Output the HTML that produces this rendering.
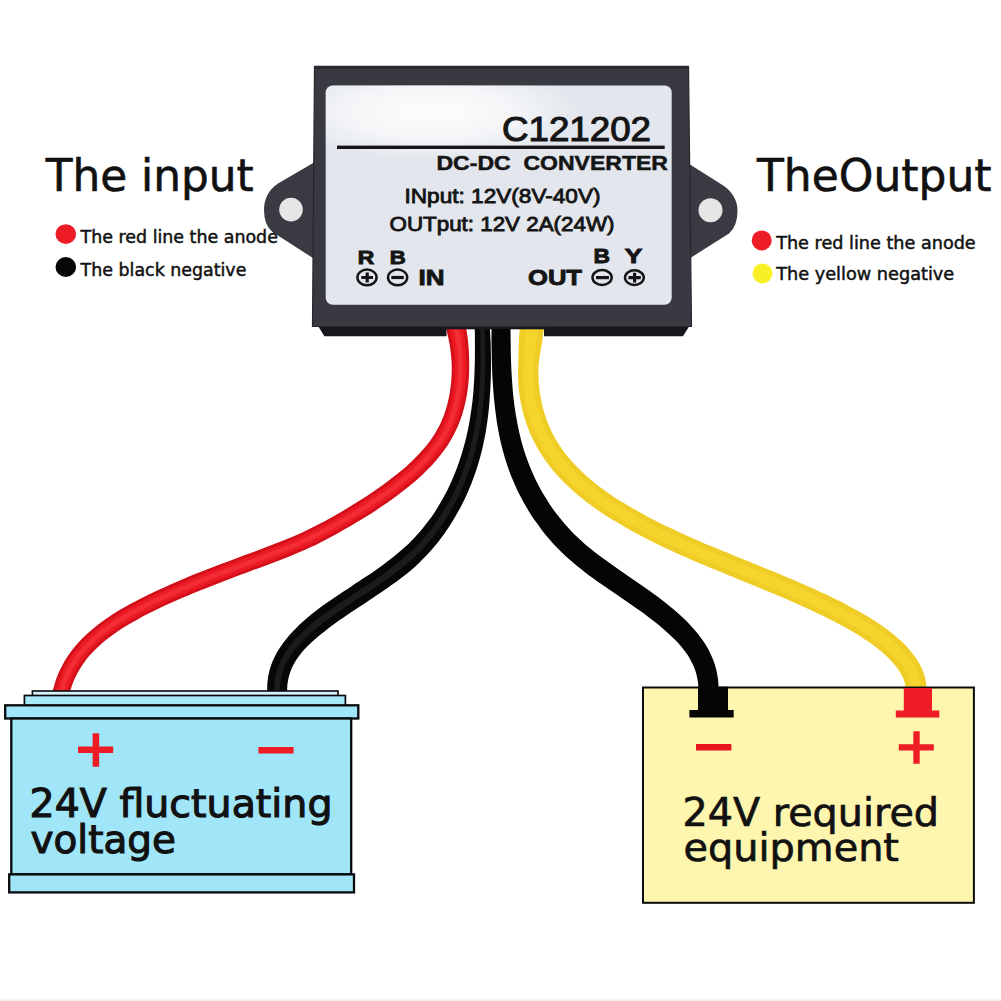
<!DOCTYPE html>
<html lang="en">
<head>
<meta charset="utf-8">
<title>DC-DC Converter wiring diagram</title>
<style>
  html, body { margin: 0; padding: 0; background: #ffffff; }
  body { width: 1001px; height: 1001px; overflow: hidden; }
  svg { display: block; }
  .hum { font-family: "DejaVu Sans", "Liberation Sans", sans-serif; fill: #111; }
  .lab { font-family: "Liberation Sans", sans-serif; fill: #151515; }
</style>
</head>
<body>
<svg width="1001" height="1001" viewBox="0 0 1001 1001">
  <defs>
    <radialGradient id="glare" gradientUnits="userSpaceOnUse" cx="430" cy="112" r="150" gradientTransform="translate(430 112) scale(1 0.32) translate(-430 -112)">
      <stop offset="0" stop-color="#ffffff" stop-opacity="0.95"/>
      <stop offset="0.55" stop-color="#ffffff" stop-opacity="0.6"/>
      <stop offset="1" stop-color="#ffffff" stop-opacity="0"/>
    </radialGradient>
  </defs>
  <rect x="0" y="0" width="1001" height="1001" fill="#ffffff"/>

  <!-- ============ wires ============ -->
  <g stroke="none">
    <path class="wRedA" fill="#d3101a" d="M445.8 327.3 C446.3 329.2 447.7 334.8 448.5 338.7 C449.3 342.5 450.0 346.5 450.5 350.4 C451.0 354.4 451.4 358.4 451.6 362.4 C451.8 366.4 451.8 370.4 451.6 374.4 C451.5 378.4 451.2 382.4 450.7 386.3 C450.2 390.3 449.6 394.2 448.8 398.0 C448.0 401.8 447.0 405.6 445.9 409.3 C444.8 413.0 443.5 416.6 442.0 420.1 C440.4 423.6 438.8 427.0 436.9 430.3 C435.0 433.6 432.9 436.8 430.7 439.9 C428.4 443.1 426.0 446.1 423.4 449.1 C420.9 452.1 418.1 455.0 415.3 457.8 C412.5 460.7 409.5 463.5 406.5 466.2 C403.5 468.9 400.3 471.5 397.1 474.1 C393.9 476.7 390.7 479.2 387.4 481.6 C384.1 484.1 380.8 486.5 377.5 488.8 C374.1 491.2 370.7 493.4 367.3 495.7 C363.9 497.9 360.4 500.1 356.9 502.3 C353.5 504.5 349.9 506.6 346.4 508.7 C342.9 510.8 339.3 512.9 335.8 514.9 C332.2 516.9 328.6 518.9 325.1 520.9 C321.5 522.8 317.9 524.7 314.2 526.6 C310.6 528.4 307.0 530.2 303.3 531.9 C299.6 533.6 295.8 535.2 292.0 536.9 C288.3 538.5 284.4 540.0 280.6 541.6 C276.8 543.1 272.9 544.6 269.0 546.1 C265.1 547.6 261.2 549.0 257.3 550.5 C253.4 552.0 249.5 553.4 245.6 554.8 C241.7 556.3 237.8 557.7 233.9 559.2 C230.0 560.7 226.1 562.1 222.2 563.6 C218.4 565.1 214.5 566.5 210.6 568.0 C206.7 569.5 202.8 571.1 199.0 572.6 C195.1 574.2 191.2 575.7 187.3 577.3 C183.5 578.9 179.6 580.6 175.7 582.2 C171.9 583.9 168.0 585.6 164.1 587.4 C160.3 589.1 156.4 590.9 152.5 592.7 C148.6 594.6 144.8 596.5 140.9 598.4 C137.0 600.4 133.2 602.4 129.3 604.5 C125.5 606.6 121.7 608.8 117.9 611.1 C114.2 613.3 110.5 615.7 106.9 618.2 C103.3 620.7 99.7 623.2 96.3 626.0 C92.9 628.7 89.6 631.5 86.4 634.5 C83.2 637.4 80.2 640.5 77.3 643.8 C74.4 647.1 71.7 650.5 69.2 654.1 C66.6 657.7 64.3 661.4 62.2 665.4 C60.1 669.3 58.2 673.4 56.6 677.7 C55.1 682.0 53.3 688.9 52.7 691.1 L69.2 694.9 C69.8 693.0 71.2 687.3 72.6 683.7 C73.9 680.1 75.5 676.7 77.2 673.4 C79.0 670.1 80.9 666.9 83.1 663.9 C85.2 660.8 87.5 657.9 90.0 655.1 C92.5 652.2 95.2 649.5 98.0 646.9 C100.8 644.3 103.8 641.7 106.9 639.3 C110.0 636.8 113.2 634.5 116.5 632.2 C119.8 629.9 123.3 627.7 126.8 625.6 C130.3 623.5 133.9 621.4 137.5 619.4 C141.1 617.4 144.9 615.5 148.6 613.6 C152.3 611.7 156.1 609.9 159.8 608.1 C163.6 606.3 167.4 604.5 171.1 602.8 C174.9 601.1 178.7 599.5 182.5 597.8 C186.2 596.2 190.0 594.6 193.8 593.0 C197.6 591.5 201.4 589.9 205.3 588.4 C209.1 586.9 212.9 585.4 216.7 583.9 C220.6 582.4 224.4 580.9 228.3 579.5 C232.1 578.0 236.0 576.6 239.9 575.1 C243.7 573.7 247.6 572.2 251.5 570.8 C255.4 569.3 259.3 567.9 263.3 566.4 C267.2 565.0 271.1 563.5 275.1 562.0 C279.0 560.5 283.0 558.9 286.9 557.4 C290.8 555.8 294.8 554.2 298.7 552.5 C302.6 550.8 306.5 549.1 310.4 547.3 C314.3 545.5 318.1 543.7 321.9 541.7 C325.7 539.8 329.5 537.8 333.2 535.8 C336.9 533.8 340.6 531.7 344.2 529.6 C347.9 527.6 351.5 525.5 355.1 523.3 C358.7 521.1 362.3 519.0 365.9 516.7 C369.5 514.5 373.1 512.2 376.6 509.9 C380.2 507.6 383.7 505.2 387.2 502.8 C390.7 500.3 394.2 497.8 397.6 495.2 C401.0 492.7 404.5 490.0 407.8 487.3 C411.2 484.6 414.5 481.8 417.8 478.9 C421.0 476.0 424.3 473.0 427.3 469.8 C430.4 466.7 433.5 463.5 436.3 460.2 C439.2 456.9 441.9 453.4 444.5 449.8 C447.0 446.3 449.5 442.5 451.6 438.7 C453.8 434.9 455.8 430.9 457.6 426.8 C459.3 422.8 460.9 418.6 462.2 414.4 C463.5 410.2 464.7 405.9 465.6 401.6 C466.5 397.2 467.3 392.8 467.8 388.5 C468.4 384.1 468.8 379.6 469.0 375.2 C469.2 370.8 469.3 366.3 469.2 361.9 C469.2 357.5 469.0 353.0 468.7 348.6 C468.4 344.3 468.0 339.9 467.4 335.6 C466.8 331.2 465.6 324.9 465.3 322.7 Z"/>
    <path class="wRedB" fill="#ec1a24" d="M449.1 326.5 C449.6 328.4 451.0 334.2 451.7 338.2 C452.5 342.1 453.1 346.1 453.6 350.1 C454.1 354.2 454.4 358.2 454.6 362.3 C454.7 366.4 454.7 370.5 454.6 374.5 C454.4 378.6 454.1 382.7 453.6 386.7 C453.1 390.7 452.5 394.7 451.7 398.6 C450.8 402.5 449.8 406.4 448.7 410.2 C447.5 413.9 446.2 417.6 444.6 421.2 C443.1 424.8 441.3 428.3 439.4 431.7 C437.5 435.1 435.3 438.4 433.0 441.6 C430.7 444.8 428.2 447.9 425.6 451.0 C423.0 454.0 420.2 457.0 417.4 459.9 C414.5 462.8 411.5 465.6 408.4 468.3 C405.3 471.1 402.2 473.7 398.9 476.3 C395.7 478.9 392.5 481.5 389.2 483.9 C385.9 486.4 382.5 488.8 379.1 491.2 C375.7 493.5 372.3 495.8 368.9 498.1 C365.4 500.4 362.0 502.6 358.5 504.8 C355.0 506.9 351.4 509.1 347.9 511.2 C344.3 513.3 340.8 515.4 337.2 517.4 C333.6 519.4 330.0 521.5 326.4 523.4 C322.8 525.4 319.2 527.3 315.5 529.1 C311.9 531.0 308.2 532.8 304.5 534.5 C300.8 536.2 297.0 537.9 293.2 539.5 C289.4 541.1 285.5 542.7 281.7 544.3 C277.8 545.8 273.9 547.3 270.0 548.8 C266.2 550.3 262.2 551.7 258.3 553.2 C254.4 554.7 250.5 556.1 246.6 557.6 C242.7 559.0 238.8 560.5 234.9 561.9 C231.0 563.4 227.2 564.8 223.3 566.3 C219.4 567.8 215.5 569.2 211.6 570.7 C207.8 572.2 203.9 573.8 200.0 575.3 C196.2 576.8 192.3 578.4 188.4 580.0 C184.6 581.6 180.7 583.2 176.9 584.9 C173.0 586.5 169.2 588.2 165.3 590.0 C161.5 591.7 157.6 593.5 153.8 595.3 C149.9 597.2 146.0 599.1 142.2 601.0 C138.4 603.0 134.5 605.0 130.7 607.0 C126.9 609.1 123.1 611.3 119.4 613.5 C115.7 615.8 112.1 618.1 108.5 620.6 C105.0 623.0 101.5 625.6 98.1 628.2 C94.8 630.9 91.5 633.7 88.4 636.6 C85.3 639.5 82.3 642.5 79.5 645.7 C76.6 648.9 74.0 652.3 71.5 655.8 C69.1 659.3 66.8 662.9 64.8 666.7 C62.7 670.6 60.9 674.6 59.4 678.7 C57.8 682.9 56.1 689.6 55.5 691.8 L66.4 694.2 C67.0 692.3 68.5 686.4 69.9 682.7 C71.2 679.0 72.9 675.4 74.7 672.0 C76.5 668.6 78.5 665.4 80.7 662.2 C82.9 659.1 85.3 656.1 87.9 653.2 C90.4 650.3 93.2 647.5 96.0 644.8 C98.9 642.1 101.9 639.5 105.1 637.0 C108.2 634.5 111.5 632.1 114.9 629.8 C118.2 627.5 121.7 625.3 125.3 623.1 C128.8 621.0 132.4 618.9 136.1 616.9 C139.8 614.9 143.5 612.9 147.3 611.0 C151.0 609.1 154.8 607.3 158.6 605.5 C162.4 603.7 166.1 601.9 169.9 600.2 C173.7 598.5 177.5 596.8 181.3 595.2 C185.1 593.5 188.9 591.9 192.7 590.4 C196.5 588.8 200.4 587.2 204.2 585.7 C208.0 584.2 211.8 582.7 215.7 581.2 C219.5 579.7 223.4 578.2 227.2 576.8 C231.1 575.3 235.0 573.9 238.9 572.4 C242.7 571.0 246.6 569.5 250.5 568.1 C254.4 566.6 258.3 565.2 262.3 563.7 C266.2 562.2 270.1 560.8 274.0 559.3 C278.0 557.8 281.9 556.2 285.8 554.7 C289.8 553.1 293.7 551.5 297.6 549.8 C301.5 548.2 305.4 546.5 309.2 544.7 C313.0 542.9 316.9 541.1 320.6 539.2 C324.4 537.3 328.1 535.3 331.8 533.3 C335.5 531.3 339.1 529.2 342.8 527.1 C346.4 525.1 350.0 523.0 353.6 520.8 C357.2 518.7 360.8 516.5 364.4 514.3 C367.9 512.1 371.5 509.8 375.0 507.5 C378.6 505.2 382.1 502.8 385.5 500.4 C389.0 498.0 392.5 495.5 395.9 492.9 C399.3 490.4 402.7 487.8 406.0 485.1 C409.3 482.4 412.6 479.6 415.9 476.7 C419.1 473.8 422.3 470.9 425.3 467.8 C428.3 464.7 431.3 461.6 434.1 458.3 C436.9 455.0 439.6 451.7 442.1 448.2 C444.6 444.6 447.0 441.0 449.1 437.3 C451.3 433.5 453.2 429.6 454.9 425.7 C456.6 421.7 458.1 417.6 459.4 413.5 C460.7 409.4 461.8 405.2 462.7 401.0 C463.7 396.7 464.4 392.4 464.9 388.1 C465.5 383.8 465.8 379.4 466.1 375.1 C466.3 370.7 466.3 366.3 466.2 362.0 C466.1 357.6 465.9 353.3 465.6 349.0 C465.3 344.6 464.8 340.3 464.2 336.1 C463.6 331.9 462.3 325.6 462.0 323.5 Z"/>
    <path class="wRedC" fill="#f42c35" d="M452.8 325.6 C453.2 327.6 454.6 333.5 455.3 337.6 C456.0 341.6 456.6 345.7 457.1 349.8 C457.5 353.9 457.8 358.1 457.9 362.2 C458.1 366.4 458.1 370.5 457.9 374.7 C457.7 378.8 457.4 383.0 456.9 387.1 C456.4 391.2 455.7 395.3 454.8 399.3 C454.0 403.3 453.0 407.3 451.8 411.1 C450.6 415.0 449.2 418.8 447.6 422.5 C446.0 426.2 444.2 429.8 442.2 433.3 C440.2 436.8 438.0 440.2 435.6 443.5 C433.3 446.8 430.7 450.0 428.1 453.1 C425.4 456.2 422.6 459.2 419.6 462.2 C416.7 465.1 413.7 468.0 410.6 470.7 C407.4 473.5 404.2 476.2 401.0 478.8 C397.7 481.5 394.4 484.0 391.1 486.5 C387.8 489.0 384.4 491.5 381.0 493.8 C377.6 496.2 374.1 498.5 370.7 500.8 C367.2 503.1 363.7 505.3 360.2 507.5 C356.6 509.7 353.1 511.8 349.5 513.9 C346.0 516.1 342.4 518.2 338.8 520.2 C335.2 522.3 331.6 524.3 328.0 526.3 C324.3 528.2 320.7 530.2 317.0 532.0 C313.3 533.9 309.6 535.7 305.8 537.4 C302.1 539.2 298.3 540.9 294.4 542.5 C290.6 544.1 286.8 545.7 282.9 547.3 C279.0 548.8 275.1 550.3 271.2 551.8 C267.3 553.3 263.4 554.8 259.5 556.2 C255.6 557.7 251.6 559.1 247.7 560.6 C243.8 562.0 239.9 563.5 236.1 564.9 C232.2 566.4 228.3 567.8 224.4 569.3 C220.5 570.8 216.7 572.3 212.8 573.7 C208.9 575.2 205.1 576.8 201.2 578.3 C197.4 579.8 193.5 581.4 189.7 583.0 C185.8 584.6 182.0 586.2 178.2 587.8 C174.3 589.5 170.5 591.2 166.6 592.9 C162.8 594.7 159.0 596.4 155.1 598.3 C151.3 600.1 147.5 602.0 143.7 603.9 C139.9 605.8 136.0 607.8 132.3 609.9 C128.5 611.9 124.8 614.1 121.1 616.3 C117.5 618.5 113.9 620.8 110.4 623.2 C106.9 625.6 103.4 628.1 100.1 630.8 C96.8 633.4 93.6 636.1 90.6 638.9 C87.5 641.8 84.6 644.8 81.9 647.9 C79.1 651.0 76.5 654.2 74.2 657.6 C71.8 661.0 69.6 664.6 67.6 668.3 C65.6 672.0 63.9 675.8 62.4 679.9 C60.9 683.9 59.3 690.4 58.6 692.5 L63.3 693.5 C63.9 691.5 65.4 685.4 66.8 681.5 C68.3 677.7 69.9 674.0 71.8 670.5 C73.7 667.0 75.8 663.6 78.1 660.4 C80.3 657.1 82.8 654.0 85.4 651.0 C88.1 648.0 90.9 645.2 93.8 642.4 C96.8 639.7 99.9 637.0 103.1 634.5 C106.3 631.9 109.6 629.5 113.0 627.2 C116.5 624.8 120.0 622.6 123.6 620.4 C127.2 618.2 130.9 616.1 134.6 614.1 C138.3 612.0 142.0 610.1 145.8 608.1 C149.6 606.2 153.4 604.4 157.2 602.6 C161.0 600.7 164.8 599.0 168.6 597.3 C172.4 595.5 176.2 593.9 180.0 592.2 C183.9 590.6 187.7 589.0 191.5 587.4 C195.3 585.8 199.2 584.2 203.0 582.7 C206.8 581.2 210.7 579.7 214.5 578.2 C218.4 576.7 222.2 575.2 226.1 573.8 C230.0 572.3 233.8 570.8 237.7 569.4 C241.6 567.9 245.5 566.5 249.4 565.0 C253.3 563.6 257.2 562.2 261.1 560.7 C265.0 559.2 269.0 557.8 272.9 556.3 C276.8 554.8 280.7 553.2 284.6 551.7 C288.5 550.1 292.4 548.5 296.3 546.9 C300.2 545.2 304.0 543.5 307.8 541.8 C311.6 540.0 315.4 538.2 319.2 536.3 C322.9 534.4 326.6 532.4 330.2 530.4 C333.9 528.5 337.5 526.4 341.2 524.3 C344.8 522.3 348.4 520.2 352.0 518.0 C355.6 515.9 359.1 513.7 362.7 511.5 C366.2 509.3 369.8 507.1 373.3 504.8 C376.8 502.5 380.2 500.2 383.7 497.7 C387.1 495.3 390.6 492.9 393.9 490.3 C397.3 487.8 400.7 485.2 404.0 482.5 C407.3 479.9 410.5 477.1 413.7 474.3 C416.9 471.5 420.0 468.5 423.0 465.5 C426.0 462.5 428.9 459.4 431.7 456.2 C434.4 453.0 437.1 449.7 439.5 446.3 C442.0 442.8 444.3 439.3 446.3 435.7 C448.4 432.0 450.3 428.3 451.9 424.4 C453.6 420.5 455.1 416.6 456.3 412.6 C457.6 408.5 458.7 404.4 459.6 400.3 C460.4 396.1 461.1 391.9 461.7 387.7 C462.2 383.5 462.5 379.2 462.7 374.9 C463.0 370.6 463.0 366.3 462.9 362.1 C462.8 357.8 462.5 353.5 462.1 349.3 C461.8 345.1 461.2 340.8 460.6 336.7 C460.0 332.5 458.7 326.4 458.3 324.4 Z"/>
    <path class="wBlk1A" fill="#070707" d="M474.7 325.3 C474.7 326.9 474.8 331.7 474.9 334.9 C474.9 338.0 474.9 341.2 474.9 344.4 C474.9 347.5 475.0 350.7 474.9 353.9 C474.9 357.0 474.9 360.2 474.8 363.3 C474.7 366.5 474.6 369.6 474.5 372.8 C474.4 375.9 474.2 379.1 474.0 382.2 C473.8 385.3 473.6 388.4 473.4 391.6 C473.1 394.7 472.8 397.8 472.5 400.9 C472.1 404.0 471.7 407.0 471.3 410.1 C470.8 413.2 470.4 416.2 469.9 419.3 C469.3 422.3 468.8 425.4 468.2 428.4 C467.5 431.4 466.9 434.4 466.2 437.4 C465.5 440.4 464.7 443.4 463.9 446.3 C463.1 449.3 462.2 452.3 461.3 455.2 C460.4 458.1 459.4 461.0 458.4 463.9 C457.4 466.8 456.3 469.7 455.2 472.6 C454.0 475.4 452.8 478.3 451.6 481.1 C450.3 483.9 449.0 486.7 447.7 489.5 C446.3 492.2 444.9 494.9 443.4 497.6 C441.9 500.3 440.4 503.0 438.8 505.6 C437.2 508.2 435.6 510.8 433.9 513.4 C432.2 515.9 430.4 518.4 428.6 520.8 C426.8 523.2 424.9 525.6 423.0 528.0 C421.1 530.3 419.1 532.6 417.1 534.8 C415.0 537.1 413.0 539.3 410.8 541.4 C408.7 543.5 406.5 545.6 404.3 547.6 C402.1 549.6 399.8 551.6 397.4 553.5 C395.1 555.5 392.7 557.4 390.3 559.3 C387.9 561.2 385.4 563.1 382.9 564.9 C380.4 566.8 377.8 568.6 375.2 570.4 C372.6 572.2 370.0 574.0 367.4 575.8 C364.7 577.5 362.1 579.3 359.4 581.1 C356.7 582.8 354.0 584.6 351.3 586.4 C348.6 588.2 345.9 589.9 343.1 591.7 C340.4 593.5 337.7 595.3 335.0 597.2 C332.3 599.0 329.6 600.9 326.9 602.8 C324.2 604.7 321.6 606.6 318.9 608.6 C316.3 610.5 313.7 612.6 311.1 614.6 C308.6 616.7 306.0 618.9 303.6 621.1 C301.1 623.3 298.6 625.5 296.3 627.9 C293.9 630.2 291.6 632.7 289.3 635.2 C287.1 637.8 285.0 640.4 283.0 643.2 C281.0 645.9 279.0 648.8 277.3 651.8 C275.6 654.8 274.0 658.0 272.6 661.3 C271.3 664.5 270.1 668.0 269.2 671.5 C268.4 675.1 267.7 678.8 267.4 682.7 C267.0 686.5 267.2 692.6 267.2 694.6 L287.2 693.5 C287.2 692.0 287.1 687.4 287.4 684.6 C287.7 681.8 288.2 679.1 288.9 676.6 C289.5 674.0 290.4 671.5 291.4 669.1 C292.4 666.7 293.6 664.4 295.0 662.1 C296.3 659.8 297.8 657.6 299.4 655.4 C301.1 653.2 302.9 651.1 304.8 649.1 C306.7 647.0 308.7 645.0 310.9 643.0 C313.0 641.0 315.2 639.0 317.5 637.1 C319.7 635.1 322.1 633.2 324.5 631.4 C326.9 629.5 329.3 627.6 331.8 625.8 C334.3 624.0 336.8 622.1 339.3 620.3 C341.9 618.5 344.5 616.8 347.1 615.0 C349.7 613.2 352.3 611.4 355.0 609.7 C357.7 607.9 360.4 606.1 363.1 604.4 C365.8 602.6 368.5 600.8 371.2 599.0 C373.9 597.2 376.6 595.4 379.4 593.6 C382.1 591.8 384.8 589.9 387.5 588.0 C390.2 586.1 392.9 584.2 395.6 582.3 C398.3 580.3 400.9 578.3 403.5 576.3 C406.2 574.2 408.8 572.1 411.3 570.0 C413.8 567.8 416.3 565.5 418.8 563.2 C421.2 560.9 423.6 558.5 425.9 556.1 C428.3 553.6 430.5 551.1 432.7 548.6 C434.9 546.0 437.0 543.4 439.1 540.8 C441.1 538.1 443.1 535.4 445.0 532.7 C447.0 529.9 448.8 527.1 450.6 524.3 C452.4 521.5 454.2 518.6 455.8 515.7 C457.5 512.8 459.1 509.9 460.7 506.9 C462.2 503.9 463.7 500.9 465.2 497.9 C466.6 494.9 467.9 491.8 469.2 488.7 C470.5 485.7 471.8 482.6 472.9 479.4 C474.1 476.3 475.2 473.2 476.3 470.0 C477.3 466.9 478.3 463.7 479.2 460.5 C480.1 457.4 481.0 454.2 481.8 451.0 C482.5 447.8 483.3 444.6 483.9 441.3 C484.6 438.1 485.2 434.9 485.8 431.7 C486.3 428.5 486.8 425.2 487.3 422.0 C487.7 418.7 488.1 415.5 488.5 412.3 C488.8 409.0 489.1 405.8 489.4 402.5 C489.7 399.3 489.9 396.0 490.1 392.8 C490.3 389.5 490.5 386.3 490.6 383.0 C490.8 379.8 490.9 376.5 490.9 373.3 C491.0 370.0 491.0 366.8 491.0 363.5 C491.0 360.3 491.0 357.0 490.9 353.8 C490.9 350.5 490.8 347.3 490.7 344.0 C490.6 340.8 490.4 337.6 490.2 334.3 C490.1 331.1 489.8 326.3 489.7 324.7 Z"/>
    <path class="wBlk1B" fill="#1b1b1b" d="M479.9 325.1 C480.0 326.7 480.2 331.5 480.2 334.7 C480.3 337.9 480.4 341.1 480.4 344.3 C480.5 347.4 480.5 350.6 480.5 353.8 C480.5 357.0 480.5 360.2 480.5 363.4 C480.4 366.6 480.4 369.8 480.3 373.0 C480.2 376.1 480.0 379.3 479.8 382.5 C479.7 385.7 479.5 388.8 479.2 392.0 C479.0 395.1 478.7 398.3 478.4 401.4 C478.1 404.6 477.7 407.7 477.3 410.9 C476.9 414.0 476.4 417.1 476.0 420.2 C475.5 423.3 474.9 426.4 474.3 429.5 C473.7 432.6 473.1 435.7 472.4 438.8 C471.7 441.9 470.9 444.9 470.1 448.0 C469.3 451.0 468.5 454.0 467.6 457.1 C466.7 460.1 465.7 463.1 464.7 466.1 C463.6 469.1 462.5 472.0 461.4 475.0 C460.2 477.9 459.0 480.9 457.8 483.8 C456.5 486.7 455.2 489.6 453.8 492.4 C452.4 495.3 450.9 498.1 449.4 500.9 C447.9 503.7 446.4 506.4 444.8 509.1 C443.1 511.9 441.5 514.5 439.7 517.2 C438.0 519.8 436.2 522.4 434.3 525.0 C432.5 527.5 430.6 530.0 428.6 532.5 C426.6 534.9 424.6 537.3 422.5 539.7 C420.5 542.0 418.3 544.3 416.1 546.5 C413.9 548.8 411.7 550.9 409.4 553.1 C407.1 555.2 404.7 557.2 402.3 559.3 C399.9 561.3 397.4 563.3 394.9 565.3 C392.4 567.2 389.9 569.1 387.3 571.0 C384.8 572.9 382.1 574.7 379.5 576.6 C376.9 578.4 374.2 580.2 371.6 582.0 C368.9 583.8 366.2 585.6 363.5 587.4 C360.8 589.1 358.1 590.9 355.4 592.7 C352.7 594.5 350.0 596.2 347.3 598.0 C344.6 599.8 341.9 601.6 339.2 603.4 C336.6 605.2 333.9 607.1 331.3 608.9 C328.6 610.8 326.0 612.7 323.4 614.6 C320.9 616.5 318.3 618.5 315.8 620.5 C313.3 622.5 310.8 624.5 308.4 626.7 C306.0 628.8 303.7 630.9 301.4 633.2 C299.1 635.4 296.9 637.7 294.7 640.1 C292.6 642.4 290.6 644.9 288.7 647.5 C286.9 650.0 285.1 652.6 283.5 655.4 C281.9 658.2 280.4 661.0 279.2 664.0 C278.0 667.0 276.9 670.1 276.1 673.3 C275.3 676.5 274.7 679.9 274.4 683.4 C274.1 686.8 274.2 692.4 274.2 694.2 L280.2 693.9 C280.2 692.2 280.1 687.1 280.4 683.9 C280.7 680.8 281.3 677.7 282.0 674.8 C282.8 671.9 283.7 669.1 284.9 666.4 C286.0 663.6 287.3 661.0 288.8 658.5 C290.3 655.9 291.9 653.5 293.7 651.1 C295.4 648.7 297.4 646.5 299.4 644.2 C301.4 642.0 303.5 639.8 305.7 637.7 C308.0 635.6 310.3 633.5 312.6 631.5 C315.0 629.4 317.4 627.5 319.8 625.5 C322.3 623.6 324.8 621.6 327.3 619.8 C329.8 617.9 332.4 616.0 335.0 614.2 C337.6 612.4 340.2 610.5 342.8 608.7 C345.5 606.9 348.2 605.2 350.9 603.4 C353.5 601.6 356.2 599.8 358.9 598.1 C361.6 596.3 364.4 594.5 367.1 592.7 C369.8 591.0 372.5 589.2 375.2 587.4 C377.9 585.5 380.5 583.7 383.2 581.9 C385.9 580.0 388.5 578.1 391.1 576.2 C393.8 574.3 396.3 572.3 398.9 570.3 C401.5 568.3 404.0 566.3 406.4 564.2 C408.9 562.1 411.3 560.0 413.7 557.8 C416.1 555.5 418.4 553.3 420.7 550.9 C422.9 548.6 425.1 546.2 427.2 543.8 C429.4 541.3 431.4 538.8 433.4 536.3 C435.4 533.7 437.4 531.1 439.3 528.5 C441.2 525.9 443.0 523.2 444.8 520.5 C446.5 517.7 448.2 515.0 449.9 512.2 C451.5 509.4 453.1 506.5 454.6 503.7 C456.2 500.8 457.6 497.9 459.0 494.9 C460.4 492.0 461.8 489.1 463.1 486.1 C464.3 483.1 465.6 480.1 466.7 477.0 C467.9 474.0 469.0 471.0 470.0 467.9 C471.1 464.8 472.0 461.8 472.9 458.7 C473.9 455.6 474.7 452.5 475.5 449.3 C476.3 446.2 477.0 443.1 477.7 440.0 C478.4 436.8 479.0 433.7 479.6 430.5 C480.2 427.4 480.7 424.2 481.2 421.0 C481.7 417.9 482.1 414.7 482.5 411.5 C482.8 408.3 483.2 405.1 483.5 401.9 C483.8 398.8 484.0 395.6 484.3 392.4 C484.5 389.2 484.7 385.9 484.8 382.7 C485.0 379.5 485.1 376.3 485.2 373.1 C485.3 369.9 485.3 366.7 485.3 363.5 C485.4 360.2 485.4 357.0 485.3 353.8 C485.3 350.6 485.3 347.4 485.2 344.2 C485.1 340.9 485.0 337.7 484.9 334.5 C484.7 331.3 484.5 326.5 484.4 324.9 Z"/>
    <path class="wBlk2A" fill="#050505" d="M491.5 325.0 C491.5 326.6 491.5 331.3 491.5 334.5 C491.5 337.6 491.5 340.8 491.5 344.0 C491.6 347.2 491.6 350.4 491.7 353.6 C491.7 356.8 491.8 360.1 491.9 363.3 C492.0 366.5 492.1 369.8 492.2 373.0 C492.4 376.3 492.6 379.5 492.8 382.8 C493.0 386.0 493.2 389.3 493.5 392.5 C493.7 395.8 494.0 399.0 494.4 402.3 C494.7 405.6 495.1 408.8 495.5 412.1 C495.9 415.3 496.3 418.6 496.8 421.8 C497.4 425.1 497.9 428.3 498.5 431.5 C499.1 434.8 499.8 438.0 500.5 441.2 C501.3 444.4 502.0 447.6 502.9 450.8 C503.7 454.0 504.7 457.2 505.6 460.3 C506.6 463.5 507.7 466.7 508.8 469.8 C509.9 472.9 511.1 476.0 512.4 479.1 C513.6 482.1 515.0 485.2 516.4 488.2 C517.8 491.2 519.3 494.2 520.8 497.1 C522.3 500.1 523.9 503.0 525.6 505.8 C527.3 508.7 529.0 511.6 530.8 514.4 C532.6 517.2 534.5 519.9 536.4 522.6 C538.3 525.4 540.3 528.0 542.3 530.7 C544.4 533.3 546.5 535.9 548.7 538.4 C550.8 541.0 553.1 543.4 555.4 545.9 C557.7 548.3 560.0 550.7 562.4 553.0 C564.8 555.3 567.3 557.6 569.8 559.8 C572.3 562.0 574.8 564.2 577.4 566.3 C580.0 568.4 582.6 570.4 585.2 572.4 C587.8 574.4 590.5 576.4 593.1 578.3 C595.8 580.3 598.5 582.2 601.2 584.0 C603.9 585.9 606.5 587.8 609.2 589.6 C611.9 591.4 614.6 593.3 617.3 595.1 C619.9 596.9 622.6 598.7 625.2 600.5 C627.9 602.3 630.5 604.1 633.1 605.9 C635.7 607.7 638.3 609.5 640.8 611.3 C643.3 613.2 645.9 615.0 648.3 616.9 C650.8 618.7 653.2 620.6 655.6 622.5 C657.9 624.4 660.3 626.3 662.5 628.2 C664.8 630.2 667.0 632.1 669.2 634.2 C671.3 636.2 673.5 638.2 675.5 640.3 C677.5 642.3 679.4 644.4 681.2 646.6 C683.0 648.7 684.7 650.9 686.2 653.1 C687.8 655.3 689.2 657.6 690.5 659.9 C691.8 662.3 693.0 664.6 694.0 667.1 C695.0 669.6 695.9 672.1 696.5 674.7 C697.2 677.4 697.7 680.0 698.1 682.9 C698.4 685.7 698.4 690.3 698.5 691.8 L718.6 692.3 C718.5 690.3 718.6 684.4 718.2 680.7 C717.8 676.9 717.1 673.3 716.3 669.7 C715.4 666.2 714.3 662.8 713.0 659.5 C711.8 656.3 710.3 653.1 708.7 650.1 C707.1 647.0 705.3 644.1 703.4 641.3 C701.5 638.5 699.5 635.8 697.4 633.2 C695.3 630.6 693.1 628.1 690.8 625.7 C688.6 623.2 686.2 620.9 683.8 618.6 C681.5 616.4 679.1 614.1 676.6 612.0 C674.1 609.8 671.6 607.7 669.1 605.7 C666.5 603.6 663.9 601.6 661.3 599.6 C658.7 597.6 656.1 595.7 653.5 593.8 C650.8 591.9 648.2 590.0 645.5 588.1 C642.9 586.2 640.2 584.4 637.5 582.6 C634.9 580.7 632.2 578.9 629.5 577.1 C626.9 575.2 624.2 573.4 621.6 571.6 C619.0 569.8 616.3 568.0 613.8 566.1 C611.2 564.3 608.6 562.5 606.1 560.6 C603.5 558.7 601.0 556.9 598.5 555.0 C596.1 553.1 593.6 551.2 591.3 549.2 C588.9 547.3 586.5 545.4 584.2 543.4 C581.9 541.4 579.7 539.3 577.5 537.3 C575.3 535.2 573.2 533.1 571.1 530.9 C569.0 528.7 567.0 526.5 565.0 524.3 C563.1 522.0 561.1 519.7 559.3 517.3 C557.4 515.0 555.6 512.6 553.8 510.2 C552.1 507.7 550.4 505.3 548.7 502.7 C547.1 500.2 545.5 497.7 543.9 495.1 C542.4 492.5 540.9 489.9 539.5 487.2 C538.1 484.6 536.7 481.9 535.4 479.2 C534.1 476.5 532.8 473.7 531.7 471.0 C530.5 468.2 529.3 465.4 528.3 462.6 C527.2 459.8 526.2 456.9 525.2 454.1 C524.3 451.2 523.4 448.3 522.6 445.4 C521.7 442.5 520.9 439.5 520.2 436.6 C519.5 433.6 518.8 430.6 518.2 427.6 C517.6 424.6 517.0 421.6 516.5 418.6 C515.9 415.5 515.4 412.5 515.0 409.4 C514.5 406.4 514.1 403.3 513.8 400.2 C513.4 397.1 513.1 394.0 512.8 390.9 C512.6 387.8 512.3 384.6 512.1 381.5 C511.9 378.4 511.7 375.2 511.5 372.1 C511.4 369.0 511.2 365.8 511.1 362.7 C511.0 359.5 510.9 356.4 510.8 353.2 C510.8 350.1 510.7 346.9 510.7 343.8 C510.6 340.6 510.6 337.5 510.6 334.4 C510.5 331.2 510.5 326.6 510.5 325.0 Z"/>
    <path class="wYelA" fill="#f0cd26" d="M520.1 325.0 C519.9 327.0 519.4 332.9 519.1 337.0 C518.9 341.1 518.8 345.2 518.6 349.4 C518.5 353.6 518.4 357.8 518.3 362.1 C518.2 366.4 517.9 370.8 518.0 375.2 C518.0 379.5 518.3 384.0 518.7 388.5 C519.2 392.9 519.8 397.4 520.6 401.8 C521.4 406.2 522.4 410.5 523.6 414.8 C524.8 419.1 526.2 423.4 527.8 427.6 C529.3 431.7 531.1 435.8 533.0 439.8 C534.9 443.7 537.0 447.6 539.3 451.3 C541.5 455.0 544.0 458.6 546.5 462.1 C549.0 465.6 551.7 468.9 554.5 472.2 C557.3 475.4 560.2 478.6 563.2 481.6 C566.3 484.7 569.4 487.6 572.6 490.5 C575.8 493.3 579.1 496.1 582.4 498.8 C585.8 501.5 589.3 504.0 592.7 506.6 C596.2 509.1 599.8 511.5 603.4 513.9 C607.0 516.3 610.6 518.5 614.3 520.8 C617.9 523.0 621.6 525.2 625.3 527.3 C629.0 529.4 632.8 531.5 636.5 533.5 C640.2 535.5 644.0 537.4 647.7 539.3 C651.5 541.3 655.3 543.1 659.0 544.9 C662.8 546.8 666.6 548.6 670.3 550.3 C674.1 552.1 677.9 553.8 681.7 555.5 C685.5 557.2 689.3 558.8 693.1 560.5 C696.9 562.1 700.7 563.7 704.5 565.3 C708.3 566.9 712.1 568.5 715.9 570.1 C719.7 571.7 723.5 573.2 727.3 574.8 C731.1 576.3 734.9 577.9 738.7 579.4 C742.4 580.9 746.2 582.5 750.0 584.0 C753.8 585.6 757.6 587.1 761.3 588.7 C765.1 590.2 768.9 591.8 772.6 593.3 C776.4 594.9 780.1 596.5 783.9 598.1 C787.6 599.7 791.3 601.3 795.1 603.0 C798.8 604.6 802.5 606.3 806.2 608.0 C809.9 609.7 813.6 611.4 817.2 613.2 C820.9 614.9 824.5 616.7 828.2 618.6 C831.8 620.4 835.5 622.3 839.1 624.2 C842.7 626.1 846.3 628.0 849.8 630.0 C853.3 632.0 856.8 634.1 860.1 636.2 C863.5 638.3 866.8 640.5 870.0 642.7 C873.2 645.0 876.3 647.3 879.2 649.7 C882.2 652.1 885.0 654.7 887.7 657.2 C890.3 659.8 892.9 662.5 895.1 665.2 C897.3 668.0 899.3 670.7 900.9 673.6 C902.5 676.5 903.8 679.3 904.6 682.4 C905.5 685.5 905.8 690.5 906.0 692.1 L927.0 691.9 C926.7 689.4 926.1 681.4 924.8 676.6 C923.5 671.9 921.5 667.4 919.2 663.3 C917.0 659.2 914.2 655.4 911.3 651.9 C908.5 648.4 905.4 645.2 902.3 642.1 C899.1 639.1 895.8 636.2 892.4 633.5 C889.0 630.7 885.5 628.1 882.0 625.7 C878.4 623.2 874.8 620.8 871.1 618.5 C867.4 616.3 863.7 614.1 859.9 612.0 C856.2 609.9 852.4 607.9 848.7 605.9 C844.9 603.9 841.2 602.0 837.4 600.1 C833.6 598.3 829.9 596.4 826.1 594.6 C822.3 592.8 818.5 591.1 814.7 589.3 C810.9 587.6 807.1 585.9 803.3 584.2 C799.5 582.6 795.7 580.9 791.9 579.3 C788.1 577.7 784.3 576.1 780.5 574.5 C776.7 572.9 772.9 571.4 769.1 569.8 C765.3 568.2 761.5 566.7 757.7 565.2 C753.9 563.6 750.1 562.1 746.3 560.5 C742.5 559.0 738.7 557.5 734.9 555.9 C731.2 554.4 727.4 552.9 723.6 551.3 C719.8 549.8 716.1 548.2 712.3 546.6 C708.6 545.1 704.8 543.5 701.1 541.9 C697.4 540.3 693.6 538.7 689.9 537.0 C686.2 535.4 682.5 533.7 678.8 532.0 C675.1 530.3 671.5 528.5 667.8 526.8 C664.1 525.0 660.5 523.2 656.9 521.4 C653.2 519.5 649.6 517.7 646.0 515.7 C642.4 513.8 638.8 511.8 635.3 509.8 C631.7 507.8 628.2 505.8 624.7 503.6 C621.2 501.5 617.8 499.4 614.4 497.2 C611.0 494.9 607.7 492.7 604.4 490.3 C601.2 488.0 598.0 485.6 594.9 483.1 C591.9 480.6 588.9 478.1 586.0 475.5 C583.1 472.9 580.3 470.2 577.6 467.5 C574.9 464.8 572.3 462.0 569.8 459.1 C567.4 456.2 565.0 453.2 562.8 450.2 C560.6 447.1 558.6 444.0 556.6 440.8 C554.7 437.6 552.9 434.3 551.3 430.9 C549.7 427.5 548.2 424.0 546.9 420.4 C545.5 416.9 544.4 413.2 543.3 409.4 C542.3 405.7 541.5 401.9 540.8 398.0 C540.1 394.2 539.5 390.3 539.1 386.5 C538.7 382.6 538.5 378.8 538.5 374.9 C538.4 371.0 538.5 367.2 538.8 363.3 C539.1 359.4 539.8 355.5 540.5 351.5 C541.1 347.6 542.0 343.6 542.5 339.5 C543.1 335.4 543.7 329.1 544.0 327.0 Z"/>
    <path class="wYelB" fill="#f5d42d" d="M526.0 325.5 C525.9 327.5 525.3 333.5 525.0 337.6 C524.6 341.7 524.3 345.8 524.1 349.9 C523.8 354.0 523.6 358.2 523.4 362.4 C523.3 366.6 523.0 370.8 523.1 375.1 C523.2 379.4 523.4 383.7 523.8 388.0 C524.2 392.3 524.8 396.6 525.6 400.8 C526.4 405.1 527.4 409.3 528.6 413.5 C529.7 417.7 531.0 421.8 532.5 425.8 C534.0 429.8 535.7 433.8 537.6 437.6 C539.4 441.4 541.5 445.1 543.6 448.7 C545.8 452.3 548.1 455.7 550.6 459.1 C553.0 462.5 555.6 465.7 558.3 468.9 C561.0 472.1 563.9 475.1 566.8 478.1 C569.8 481.1 572.8 484.0 575.9 486.7 C579.1 489.5 582.3 492.2 585.6 494.9 C588.9 497.5 592.2 500.0 595.7 502.5 C599.1 505.0 602.6 507.4 606.1 509.7 C609.7 512.0 613.3 514.3 616.9 516.5 C620.5 518.7 624.2 520.8 627.8 522.9 C631.5 525.0 635.2 527.0 638.9 529.0 C642.6 531.0 646.3 533.0 650.0 534.8 C653.7 536.7 657.5 538.6 661.2 540.4 C665.0 542.2 668.7 544.0 672.5 545.7 C676.2 547.5 680.0 549.2 683.8 550.9 C687.5 552.5 691.3 554.2 695.1 555.8 C698.9 557.5 702.7 559.1 706.4 560.7 C710.2 562.3 714.0 563.8 717.8 565.4 C721.6 567.0 725.4 568.5 729.2 570.1 C733.0 571.6 736.8 573.2 740.6 574.7 C744.4 576.2 748.1 577.8 751.9 579.3 C755.7 580.8 759.5 582.4 763.3 583.9 C767.1 585.5 770.8 587.1 774.6 588.6 C778.4 590.2 782.1 591.8 785.9 593.4 C789.6 595.0 793.4 596.6 797.1 598.3 C800.9 599.9 804.6 601.6 808.3 603.3 C812.0 605.0 815.7 606.8 819.4 608.5 C823.1 610.3 826.8 612.1 830.5 613.9 C834.2 615.8 837.8 617.7 841.5 619.6 C845.1 621.5 848.7 623.5 852.3 625.5 C855.9 627.5 859.4 629.6 862.9 631.8 C866.3 633.9 869.7 636.1 873.0 638.5 C876.3 640.8 879.5 643.2 882.5 645.7 C885.6 648.2 888.5 650.8 891.3 653.5 C894.1 656.2 896.8 659.0 899.2 661.9 C901.5 664.8 903.7 667.8 905.5 671.0 C907.2 674.2 908.7 677.5 909.7 681.0 C910.6 684.5 911.0 690.2 911.3 692.0 L921.8 692.0 C921.4 689.7 921.0 682.4 919.8 678.1 C918.6 673.7 916.7 669.7 914.6 665.9 C912.6 662.1 910.0 658.6 907.3 655.2 C904.6 651.9 901.6 648.9 898.6 645.9 C895.6 643.0 892.4 640.2 889.1 637.5 C885.8 634.9 882.4 632.4 879.0 629.9 C875.5 627.5 871.9 625.2 868.3 622.9 C864.8 620.7 861.1 618.6 857.4 616.5 C853.7 614.4 850.0 612.4 846.3 610.5 C842.6 608.5 838.8 606.6 835.1 604.7 C831.4 602.9 827.6 601.1 823.9 599.3 C820.1 597.5 816.3 595.7 812.6 594.0 C808.8 592.3 805.0 590.6 801.2 588.9 C797.5 587.3 793.7 585.6 789.9 584.0 C786.1 582.4 782.3 580.8 778.5 579.2 C774.7 577.6 770.9 576.1 767.1 574.5 C763.4 573.0 759.6 571.4 755.8 569.9 C752.0 568.3 748.2 566.8 744.4 565.3 C740.6 563.7 736.8 562.2 733.0 560.7 C729.2 559.1 725.5 557.6 721.7 556.0 C717.9 554.5 714.1 552.9 710.4 551.3 C706.6 549.7 702.8 548.1 699.1 546.5 C695.4 544.9 691.6 543.3 687.9 541.6 C684.1 540.0 680.4 538.3 676.7 536.6 C673.0 534.8 669.3 533.1 665.6 531.3 C661.9 529.5 658.2 527.7 654.6 525.9 C650.9 524.0 647.3 522.1 643.6 520.2 C640.0 518.2 636.4 516.2 632.8 514.2 C629.2 512.2 625.6 510.1 622.1 507.9 C618.6 505.8 615.1 503.6 611.6 501.3 C608.2 499.1 604.8 496.8 601.5 494.4 C598.2 492.0 595.0 489.5 591.8 487.0 C588.7 484.5 585.6 481.9 582.6 479.3 C579.6 476.6 576.8 473.9 574.0 471.0 C571.2 468.2 568.5 465.3 566.0 462.3 C563.5 459.4 561.0 456.3 558.8 453.2 C556.5 450.0 554.3 446.8 552.3 443.4 C550.3 440.1 548.4 436.7 546.7 433.1 C545.0 429.6 543.5 426.0 542.1 422.2 C540.7 418.5 539.5 414.7 538.4 410.8 C537.3 406.9 536.4 402.9 535.7 399.0 C535.0 395.0 534.4 391.0 534.0 387.0 C533.6 383.0 533.4 379.0 533.4 375.0 C533.3 371.0 533.4 367.0 533.7 363.0 C533.9 359.0 534.5 355.0 535.0 351.0 C535.5 347.0 536.2 342.9 536.7 338.9 C537.2 334.8 537.8 328.6 538.0 326.5 Z"/>
  </g>

  <!-- ============ converter ============ -->
  <g id="converter">
    <!-- tabs -->
    <path d="M320 159 L278 183.500 Q264 193 264 210 Q264 225 272.500 232 L320 262.600 Z" fill="#3a3b42"/>
    <path d="M684 160.800 L724 186 Q737.500 196 737.500 211 Q737.500 226 729 233.500 L684 262 Z" fill="#3a3b42"/>
    <circle cx="291" cy="209.600" r="11.800" fill="#e6e6e6"/>
    <circle cx="710.500" cy="210.200" r="12" fill="#e6e6e6"/>
    <!-- under shadow -->
    <path d="M317.500 325 L446.500 325 L446.500 336.300 L324.400 336.300 Z" fill="#17171b"/>
    <path d="M544 325 L690 325 L683 336.300 L544 336.300 Z" fill="#17171b"/>
    <rect x="446" y="325" width="99" height="4.300" fill="#18181c"/>
    <!-- body -->
    <path d="M314.500 66.300 L688.500 66.300 L691.500 326.500 L312.500 326.500 Z" fill="#393a41" stroke="#26262c" stroke-width="1.200" stroke-linejoin="round"/>
    <path d="M314.500 66.500 L688.500 66.500 L688.500 69 L314.500 69 Z" fill="#2a2a30"/>
    <!-- label -->
    <rect x="325.700" y="85.500" width="346" height="219.300" rx="7" ry="7" fill="#e3e7ed"/>
    <rect x="325.700" y="85.500" width="346" height="219.300" rx="7" ry="7" fill="url(#glare)"/>
    <rect x="337" y="145.600" width="327.700" height="3.400" fill="#161616"/>
    <text class="lab" x="502" y="141.400" font-size="35" textLength="149" lengthAdjust="spacingAndGlyphs" stroke="#151515" stroke-width="1.1">C121202</text>
    <text class="lab" x="436.500" y="170.400" font-size="19.500" font-weight="bold" textLength="231.500" lengthAdjust="spacingAndGlyphs" stroke="#151515" stroke-width="0.5" xml:space="preserve">DC-DC  CONVERTER</text>
    <text class="lab" x="404.500" y="203.400" font-size="20" textLength="196" lengthAdjust="spacingAndGlyphs" stroke="#151515" stroke-width="0.85">INput: 12V(8V-40V)</text>
    <text class="lab" x="389.500" y="231" font-size="20" textLength="225" lengthAdjust="spacingAndGlyphs" stroke="#151515" stroke-width="0.85">OUTput: 12V 2A(24W)</text>
    <text class="lab" x="357.800" y="263.800" font-size="17.500" font-weight="bold" textLength="16.500" lengthAdjust="spacingAndGlyphs" stroke="#151515" stroke-width="0.9">R</text>
    <text class="lab" x="389.800" y="263.800" font-size="17.500" font-weight="bold" textLength="16" lengthAdjust="spacingAndGlyphs" stroke="#151515" stroke-width="0.9">B</text>
    <text class="lab" x="418.500" y="285.400" font-size="22.800" font-weight="bold" textLength="26" lengthAdjust="spacingAndGlyphs" stroke="#151515" stroke-width="0.9">IN</text>
    <text class="lab" x="528" y="285.400" font-size="22.800" font-weight="bold" textLength="54" lengthAdjust="spacingAndGlyphs" stroke="#151515" stroke-width="0.9">OUT</text>
    <text class="lab" x="593.500" y="263.200" font-size="20" font-weight="bold" textLength="16.500" lengthAdjust="spacingAndGlyphs" stroke="#151515" stroke-width="0.9">B</text>
    <text class="lab" x="624.800" y="263.200" font-size="20" font-weight="bold" textLength="17.600" lengthAdjust="spacingAndGlyphs" stroke="#151515" stroke-width="0.9">Y</text>
    <g fill="none" stroke="#151515" stroke-width="2.500">
      <ellipse cx="367" cy="277.400" rx="9.600" ry="7.800"/>
      <path d="M361.300 277.500 H373 M367.200 272.600 V282.500" stroke-width="3.200"/>
      <ellipse cx="397.600" cy="277.400" rx="9.600" ry="7.800"/>
      <path d="M391.300 277.500 H403.800" stroke-width="3.200"/>
      <ellipse cx="602.100" cy="277.500" rx="9.600" ry="7.500"/>
      <path d="M596 277.600 H609" stroke-width="3.200"/>
      <ellipse cx="634.400" cy="277.600" rx="9.400" ry="7.300"/>
      <path d="M628.400 277.700 H640.800 M634.600 272.700 V282.400" stroke-width="3.200"/>
    </g>
  </g>

  <!-- ============ left captions ============ -->
  <text class="hum" x="45.700" y="190.600" font-size="44.500" textLength="208" lengthAdjust="spacingAndGlyphs" stroke="#111" stroke-width="0.600">The input</text>
  <ellipse cx="65.800" cy="234.100" rx="10.300" ry="9.900" fill="#ee1c25"/>
  <text class="hum" x="80.600" y="242.600" font-size="18.300" textLength="197.300" lengthAdjust="spacingAndGlyphs" stroke="#111" stroke-width="0.500">The red line the anode</text>
  <ellipse cx="65.800" cy="267" rx="10.300" ry="10" fill="#070707"/>
  <text class="hum" x="80.600" y="275.600" font-size="18.300" textLength="165.800" lengthAdjust="spacingAndGlyphs" stroke="#111" stroke-width="0.500">The black negative</text>

  <!-- ============ right captions ============ -->
  <text class="hum" x="757" y="190.600" font-size="44.500" textLength="234.500" lengthAdjust="spacingAndGlyphs" stroke="#111" stroke-width="0.600">TheOutput</text>
  <circle cx="761.700" cy="240.400" r="10" fill="#ee1c25"/>
  <text class="hum" x="776.200" y="248.600" font-size="18.300" textLength="199.500" lengthAdjust="spacingAndGlyphs" stroke="#111" stroke-width="0.500">The red line the anode</text>
  <circle cx="762.500" cy="273.400" r="10" fill="#f8ef27"/>
  <text class="hum" x="776.200" y="280.300" font-size="18.300" textLength="178" lengthAdjust="spacingAndGlyphs" stroke="#111" stroke-width="0.500">The yellow negative</text>

  <!-- ============ battery ============ -->
  <g id="battery" stroke="#08090b" stroke-width="2.300">
    <rect x="32.400" y="691" width="305.600" height="6" fill="#d4f2fb" stroke-width="1.600"/>
    <rect x="24.400" y="695.500" width="321" height="11" fill="#a8e8f9" stroke-width="1.700"/>
    <rect x="5.200" y="705.300" width="353.100" height="13.200" fill="#a0e6f8"/>
    <rect x="11.300" y="718.500" width="339.900" height="155.900" fill="#a0e6f8"/>
    <rect x="9.200" y="874.400" width="344.800" height="18" fill="#a0e6f8"/>
  </g>
  <path d="M78 749.800 H113.200 M95.900 733.300 V766.800" stroke="#ee1c25" stroke-width="6.500" fill="none"/>
  <path d="M258.400 750.300 H293.600" stroke="#ee1c25" stroke-width="6.500" fill="none"/>
  <text class="hum" x="29.500" y="816.800" font-size="38.800" textLength="303" lengthAdjust="spacingAndGlyphs" stroke="#111" stroke-width="1.100">24V fluctuating</text>
  <text class="hum" x="30.500" y="852.600" font-size="38.800" textLength="145.500" lengthAdjust="spacingAndGlyphs" stroke="#111" stroke-width="1.100">voltage</text>

  <!-- ============ equipment ============ -->
  <rect x="643" y="687.500" width="330.900" height="215.300" fill="#fef5ae" stroke="#0c0c0c" stroke-width="2"/>
  <path d="M698 686.800 H728 V710 H733.700 V717.600 H689.400 V710 H698 Z" fill="#050505"/>
  <path d="M903.800 688 H932 V710.500 H939.300 V717.500 H895.800 V710.500 H903.800 Z" fill="#ee1c25"/>
  <path d="M696 747.300 H731.400" stroke="#e8141c" stroke-width="6.400" fill="none"/>
  <path d="M898.800 747.400 H933.800 M916.500 731.300 V763.800" stroke="#ee1c25" stroke-width="6.400" fill="none"/>
  <text class="hum" x="682.500" y="826" font-size="38.800" textLength="256.500" lengthAdjust="spacingAndGlyphs" stroke="#111" stroke-width="0.700">24V required</text>
  <text class="hum" x="683.500" y="861" font-size="38.800" textLength="215.500" lengthAdjust="spacingAndGlyphs" stroke="#111" stroke-width="0.700">equipment</text>
  <rect x="0" y="999.300" width="1001" height="1.700" fill="#f1f3f3"/>
</svg>
</body>
</html>
